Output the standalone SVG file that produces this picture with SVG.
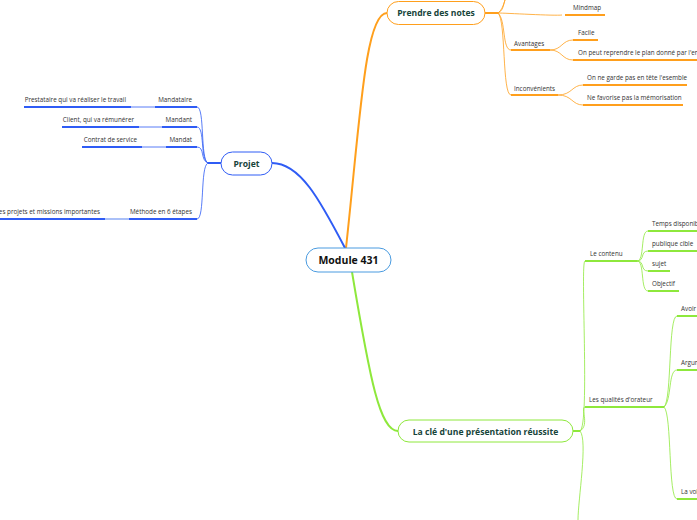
<svg xmlns="http://www.w3.org/2000/svg" width="697" height="520" viewBox="0 0 697 520">
<style>
text{font-family:"Open Sans","Noto Sans",sans-serif;}
.t{font-size:6.3px;fill:#333;}
.m{font-size:8.6px;font-weight:bold;fill:#17443a;}
.o{stroke:#ff9f1c;fill:none;}
.b{stroke:#2f5cf5;fill:none;}
.g{stroke:#8ee83c;fill:none;}
.u{stroke-width:2;}
.c{stroke-width:0.8;}
</style>
<rect width="697" height="520" fill="#fff"/>
<g id="connectors">
<path class="o" stroke-width="2" d="M346,248 C360,120 365,13 387,13"/>
<path class="b" stroke-width="2" d="M345,248 C320,200 300,163 272,163"/>
<path class="g" stroke-width="2" d="M352,272 C370,380 380,431 398,431"/>
<path class="o u" d="M485,13 H498"/>
<path class="o c" d="M498,13 C505,10 503,0 508,-6 M498,13 C505,8 504,-4 510,-10"/>
<path class="o c" d="M498,13 C505,13 555,16 562,15"/>
<path class="o u" d="M565,15 H605"/>
<path class="o c" d="M498,13 C506,20 502,50 511,50 M498,13 C506,20 502,95 511,95"/>
<path class="o u" d="M511,50 H550 M511,95 H558"/>
<path class="o c" d="M550,50 C562,50 562,40 573,40 M550,50 C562,50 562,60 573,60"/>
<path class="o u" d="M573,40 H598 M573,60 H697"/>
<path class="o c" d="M558,95 C572,95 572,85 583,85 M558,95 C572,95 572,105 583,105"/>
<path class="o u" d="M583,85 H687 M583,105 H683"/>
<path class="b u" d="M221,163 H208"/>
<path class="b c" d="M208,163 C200,160 205,107 197,107 M208,163 C200,160 205,127 197,127 M208,163 C200,160 205,147 197,147 M208,163 C200,166 205,219 197,219"/>
<path class="b u" d="M155,107 H197 M162,127 H197 M166,147 H197 M129,219 H197"/>
<path class="b c" d="M131,107 H155 M139,127 H162 M142,147 H166"/>
<path stroke="#aac0f8" stroke-width="2" d="M105,219 H129"/>
<path class="b u" d="M24,107 H131 M62,127 H139 M82,147 H142 M0,219 H105"/>
<path class="g u" d="M573,431 H580"/>
<path class="g c" d="M580,431 C590,425 580,261 585,261 M580,431 C590,425 580,407 585,407 M580,431 C588,440 578,500 578,520"/>
<path class="g u" d="M585,261 H637 M585,407 H664"/>
<path class="g c" d="M637,261 C645,261 640,231 648,231 M637,261 C645,261 640,251 648,251 M637,261 C645,261 640,271 648,271 M637,261 C645,261 640,291 648,291"/>
<path class="g u" d="M648,231 H697 M648,251 H697 M648,271 H670 M648,291 H679"/>
<path class="g c" d="M664,407 C672,400 668,316 677,316 M664,407 C672,400 668,370 677,370 M664,407 C672,414 668,499 677,499"/>
<path class="g u" d="M677,316 H697 M677,370 H697 M677,499 H697"/>
</g>
<g id="root"><rect x="306" y="248" width="85" height="24" rx="12" fill="#fff" stroke="#4a9be0"/><text x="348.5" y="264" text-anchor="middle" font-size="10.5" font-weight="bold" fill="#111">Module 431</text></g>
<g id="n-prendre"><rect x="387" y="1.5" width="98" height="23" rx="11.5" fill="#fff" stroke="#ff9f1c"/><text class="m" x="436" y="16" text-anchor="middle">Prendre des notes</text></g>
<g id="n-projet"><rect x="221" y="152" width="51" height="23" rx="11.5" fill="#fff" stroke="#2f5cf5"/><text class="m" x="246.5" y="166.5" text-anchor="middle">Projet</text></g>
<g id="n-cle"><rect x="398" y="420" width="175" height="22" rx="11" fill="#fff" stroke="#8ee83c"/><text class="m" x="485.5" y="434.5" text-anchor="middle">La clé d'une présentation réussite</text></g>
<g id="n-mindmap"><text class="t" x="573" y="10">Mindmap</text></g>
<g id="n-avantages"><text class="t" x="514" y="46">Avantages</text></g>
<g id="n-facile"><text class="t" x="578" y="35">Facile</text></g>
<g id="n-onpeut"><text class="t" x="578" y="55">On peut reprendre le plan donné par l'enseignant</text></g>
<g id="n-inconv"><text class="t" x="514" y="91">Inconvénients</text></g>
<g id="n-ensemble"><text class="t" x="587" y="80">On ne garde pas en tête l'esemble</text></g>
<g id="n-memo"><text class="t" x="587" y="100">Ne favorise pas la mémorisation</text></g>
<g id="n-mandataire"><text class="t" x="192" y="102" text-anchor="end">Mandataire</text></g>
<g id="n-prestataire"><text class="t" x="126" y="102" text-anchor="end">Prestataire qui va réaliser le travail</text></g>
<g id="n-mandant"><text class="t" x="192" y="122" text-anchor="end">Mandant</text></g>
<g id="n-client"><text class="t" x="134" y="122" text-anchor="end">Client, qui va rémunérer</text></g>
<g id="n-mandat"><text class="t" x="192" y="142" text-anchor="end">Mandat</text></g>
<g id="n-contrat"><text class="t" x="137" y="142" text-anchor="end">Contrat de service</text></g>
<g id="n-methode"><text class="t" x="192" y="214" text-anchor="end">Méthode en 6 étapes</text></g>
<g id="n-projets"><text class="t" x="100" y="214" text-anchor="end">des projets et missions importantes</text></g>
<g id="n-contenu"><text class="t" x="590" y="256">Le contenu</text></g>
<g id="n-temps"><text class="t" x="652" y="226">Temps disponible</text></g>
<g id="n-publique"><text class="t" x="652" y="246">publique cible</text></g>
<g id="n-sujet"><text class="t" x="652" y="266">sujet</text></g>
<g id="n-objectif"><text class="t" x="652" y="286">Objectif</text></g>
<g id="n-qualites"><text class="t" x="589" y="402">Les qualités d'orateur</text></g>
<g id="n-avoir"><text class="t" x="681" y="311">Avoir</text></g>
<g id="n-argu"><text class="t" x="681" y="365">Argumenter</text></g>
<g id="n-voix"><text class="t" x="681" y="494">La voix</text></g>
</svg>
